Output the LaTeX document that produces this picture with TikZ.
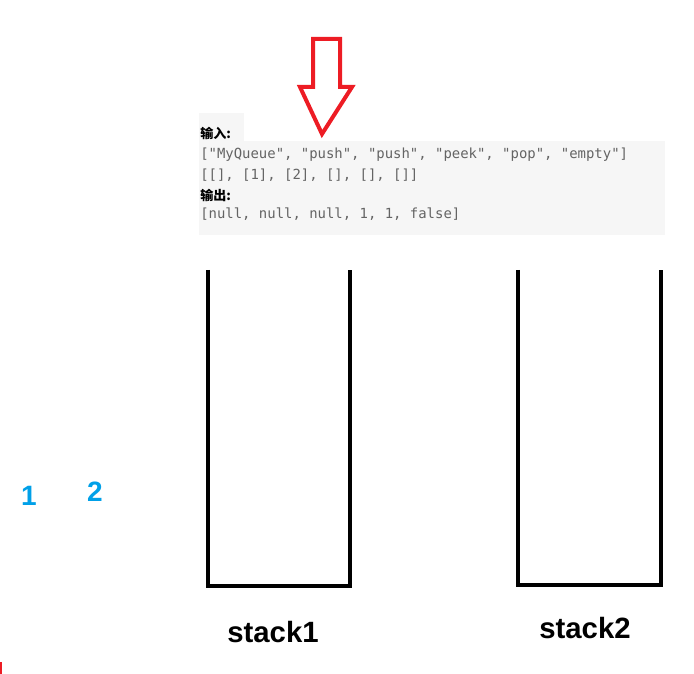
\documentclass[tikz,border=0pt]{standalone}
\usepackage{fontspec}
\setmainfont{Liberation Sans}
\newfontfamily\cjk{Noto Sans CJK SC}
\newfontfamily\codefont{DejaVu Sans Mono}
\usetikzlibrary{positioning}
\definecolor{codegray}{RGB}{100,100,100}
\definecolor{boxgray}{RGB}{246,246,246}
\definecolor{numblue}{RGB}{0,160,232}
\definecolor{arrowred}{RGB}{237,28,36}
\tikzset{
  code/.style = {anchor=west, inner sep=0pt, text=codegray, font=\codefont\fontsize{10.45}{12}\selectfont},
  head/.style = {anchor=west, inner sep=0pt, font=\cjk\bfseries\fontsize{9.8}{11}\selectfont},
  stack/.style = {line width=3pt, line join=miter},
  label/.style = {font=\bfseries\fontsize{22}{24}\selectfont},
  num/.style = {text=numblue, font=\bfseries\fontsize{21}{23}\selectfont}
}
\begin{document}
\begin{tikzpicture}[x=0.75pt, y=-0.75pt]
  \useasboundingbox (0,0) rectangle (694,674);

  % example box
  \fill[boxgray] (199,141) rectangle (665,235);
  \fill[boxgray] (199,113) rectangle (244,141);
  \node[head] (in) at (200,133) {输入:};
  \node[code] (l1) at (200,155) {["MyQueue", "push", "push", "peek", "pop", "empty"]};
  \node[code] (l2) at (200,175) {[[], [1], [2], [], [], []]};
  \node[head] (out) at (200,195) {输出:};
  \node[code] (l3) at (200,214) {[null, null, null, 1, 1, false]};

  % red arrow
  \draw[arrowred, line width=3pt, line join=miter]
    (313,39) -- (340,39) -- (340,87) -- (352,87) -- (322,134) -- (300,87) -- (313,87) -- cycle;

  % stacks
  \draw[stack] (208,270) -- (208,586) -- (350,586) -- (350,270);
  \draw[stack] (518,270) -- (518,585) -- (661,585) -- (661,270);
  \node[label] (s1) at (273,632) {stack1};
  \node[label] (s2) at (585,628) {stack2};

  % numbers
  \node[num] (n1) at (29,496) {1};
  \node[num] (n2) at (95,492) {2};

  % stray mark
  \draw[arrowred, line width=1.5pt] (0.5,662) -- (0.5,674);
\end{tikzpicture}
\end{document}
